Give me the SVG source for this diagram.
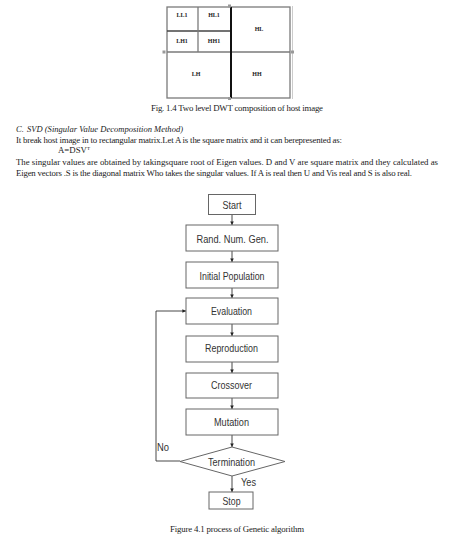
<svg xmlns="http://www.w3.org/2000/svg" width="474" height="540" viewBox="0 0 474 540">
<style>
.serif{font-family:"Liberation Serif","Times New Roman",serif;fill:#1a1a1a}
.lbl{font-family:"Liberation Serif",serif;font-size:6px;font-weight:bold;fill:#222;text-anchor:middle}
.box{fill:#fff;stroke:#666;stroke-width:1}
.ft{font-family:"Liberation Sans",Arial,sans-serif;font-size:11px;fill:#333;text-anchor:middle;dominant-baseline:central}
.con{fill:none;stroke:#333;stroke-width:0.9}
.grid{stroke:#7a7a7a;stroke-width:1.3;fill:none}
.h{fill:#999}
</style>
<defs>
<marker id="ah" viewBox="0 0 6 6" refX="6" refY="3" markerWidth="4" markerHeight="4" orient="auto">
<path d="M0,0 L6,3 L0,6 Z" fill="#222"/>
</marker>
</defs>
<rect width="474" height="540" fill="#fff"/>
<!-- DWT figure -->
<g id="dwt">
<rect x="167" y="7" width="123" height="91" class="grid"/>
<line x1="167" y1="52" x2="290" y2="52" class="grid" stroke="#666"/>
<line x1="167" y1="31" x2="231" y2="31" stroke="#444" stroke-width="1.3"/>
<line x1="198" y1="7" x2="198" y2="52" class="grid"/>
<line x1="231" y1="7" x2="231" y2="98" stroke="#111" stroke-width="2"/>
<line x1="292.5" y1="6" x2="292.5" y2="99" stroke="#ccc" stroke-width="1"/>
<rect x="162.5" y="50.5" width="3" height="3" class="h"/>
<rect x="291" y="50.5" width="3" height="3" class="h"/>
<rect x="228" y="4.5" width="3" height="3" class="h"/>
<rect x="228" y="97" width="3" height="3" class="h"/>
<text class="lbl" x="182" y="17">LL1</text>
<text class="lbl" x="214" y="17">HL1</text>
<text class="lbl" x="182" y="43">LH1</text>
<text class="lbl" x="214" y="43">HH1</text>
<text class="lbl" x="259" y="30.5">HL</text>
<text class="lbl" x="196" y="75.5">LH</text>
<text class="lbl" x="257" y="75.5">HH</text>
</g>
<text class="serif" x="151" y="110.5" font-size="8.8" textLength="172">Fig. 1.4 Two level DWT composition of host image</text>
<text class="serif" x="16" y="131.5" font-size="8.5" font-style="italic">C.</text>
<text class="serif" x="27" y="131.5" font-size="8.5" font-style="italic" textLength="156">SVD (Singular Value Decomposition Method)</text>
<text class="serif" x="16" y="143" font-size="8.8" textLength="326">It break host image in to rectangular matrix.Let A is the square matrix and it can berepresented as:</text>
<text class="serif" x="58" y="152.5" font-size="8.8">A=DSV<tspan font-size="5" dy="-3">T</tspan></text>
<text class="serif" x="16" y="164.5" font-size="8.8" textLength="422">The singular values are obtained by takingsquare root of Eigen values. D and  V are square matrix and they calculated as</text>
<text class="serif" x="16" y="176" font-size="8.8" textLength="396">Eigen vectors .S is the diagonal matrix Who takes the singular values. If A is real then U and Vis real and S is also real.</text>
<!-- Flowchart -->
<g id="connectors">
<line class="con" x1="232" y1="214" x2="232" y2="225" marker-end="url(#ah)"/>
<line class="con" x1="232" y1="251" x2="232" y2="262" marker-end="url(#ah)"/>
<line class="con" x1="232" y1="288" x2="232" y2="298" marker-end="url(#ah)"/>
<line class="con" x1="232" y1="324" x2="232" y2="336" marker-end="url(#ah)"/>
<line class="con" x1="232" y1="362" x2="232" y2="373" marker-end="url(#ah)"/>
<line class="con" x1="232" y1="398" x2="232" y2="409" marker-end="url(#ah)"/>
<line class="con" x1="232" y1="435" x2="232" y2="447" marker-end="url(#ah)"/>
<line class="con" x1="232" y1="476" x2="232" y2="492" marker-end="url(#ah)"/>
<polyline class="con" points="180,461 156,461 156,311 186,311" marker-end="url(#ah)"/>
<text class="ft" x="163" y="447" textLength="12" lengthAdjust="spacingAndGlyphs">No</text>
<text class="ft" x="248.5" y="482" textLength="15" lengthAdjust="spacingAndGlyphs">Yes</text>
</g>
<g id="start"><rect class="box" x="208.5" y="194.5" width="47" height="20"/><text class="ft" x="232" y="204.5" textLength="19" lengthAdjust="spacingAndGlyphs">Start</text></g>
<g id="rand"><rect class="box" x="186" y="225" width="92" height="26"/><text class="ft" x="232.5" y="238.5" textLength="72" lengthAdjust="spacingAndGlyphs">Rand. Num. Gen.</text></g>
<g id="init"><rect class="box" x="186" y="262" width="92" height="26"/><text class="ft" x="232" y="276" textLength="65" lengthAdjust="spacingAndGlyphs">Initial Population</text></g>
<g id="eval"><rect class="box" x="186" y="298" width="92" height="26"/><text class="ft" x="231.5" y="311" textLength="41" lengthAdjust="spacingAndGlyphs">Evaluation</text></g>
<g id="repro"><rect class="box" x="186" y="336" width="92" height="26"/><text class="ft" x="231.5" y="348" textLength="53" lengthAdjust="spacingAndGlyphs">Reproduction</text></g>
<g id="cross"><rect class="box" x="186" y="373" width="92" height="25"/><text class="ft" x="231.5" y="385" textLength="41" lengthAdjust="spacingAndGlyphs">Crossover</text></g>
<g id="mut"><rect class="box" x="186" y="409" width="92" height="26"/><text class="ft" x="231.5" y="422" textLength="35" lengthAdjust="spacingAndGlyphs">Mutation</text></g>
<g id="term"><polygon class="box" points="232,447 285,461.5 232,476 180,461.5"/><text class="ft" x="231.5" y="462" textLength="47" lengthAdjust="spacingAndGlyphs">Termination</text></g>
<g id="stop"><rect class="box" x="209" y="492" width="44" height="17"/><text class="ft" x="231.5" y="501" textLength="18" lengthAdjust="spacingAndGlyphs">Stop</text></g>
<text class="serif" x="170" y="531.5" font-size="8.8" textLength="134">Figure 4.1 process of Genetic algorithm</text>
</svg>
